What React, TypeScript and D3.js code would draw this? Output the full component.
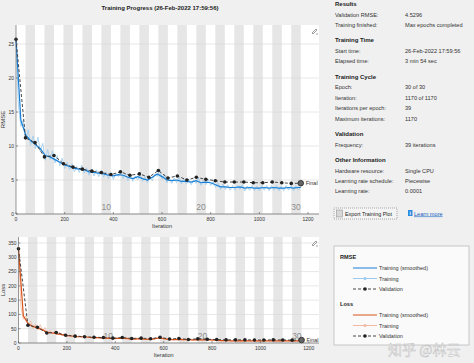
import React from 'react';
import * as d3 from 'd3';

// training setup
const ITER_PER_EPOCH = 39;
const NUM_EPOCHS = 30;
const epochLabels = [10, 20, 30];
const xTicks = [0, 200, 400, 600, 800, 1000, 1200];
const rmseTicks = [0, 5, 10, 15, 20, 25];
const lossTicks = [0, 50, 100, 150, 200, 250, 300, 350];

// validation (every 39 iterations)
const valIter = [0, 39, 78, 117, 156, 195, 234, 273, 312, 351, 390, 429, 468, 507, 546, 585, 624, 663, 702, 741, 780, 819, 858, 897, 936, 975, 1014, 1053, 1092, 1131, 1170];
const valRmse = [25.7, 11.2, 10.5, 8.4, 8.6, 7.4, 6.9, 6.6, 6.3, 6.1, 5.8, 6.2, 5.7, 5.9, 5.4, 6.4, 5.3, 5.6, 5.0, 5.4, 5.1, 4.9, 4.7, 4.7, 4.7, 4.6, 4.6, 4.7, 4.6, 4.5, 4.53];
const valLoss = [330, 62, 55, 35, 37, 27, 24, 22, 20, 19, 17, 19, 16, 17, 15, 20, 14, 16, 12.5, 14.6, 13, 12, 11, 11, 11, 10.6, 10.6, 11, 10.6, 10, 10.3];

// raw training (sampled every 10 iterations)
const rawIter = [0, 10, 20, 30, 40, 50, 60, 70, 80, 90, 100, 110, 120, 130, 140, 150, 160, 170, 180, 190, 200, 210, 220, 230, 240, 250, 260, 270, 280, 290, 300, 310, 320, 330, 340, 350, 360, 370, 380, 390, 400, 410, 420, 430, 440, 450, 460, 470, 480, 490, 500, 510, 520, 530, 540, 550, 560, 570, 580, 590, 600, 610, 620, 630, 640, 650, 660, 670, 680, 690, 700, 710, 720, 730, 740, 750, 760, 770, 780, 790, 800, 810, 820, 830, 840, 850, 860, 870, 880, 890, 900, 910, 920, 930, 940, 950, 960, 970, 980, 990, 1000, 1010, 1020, 1030, 1040, 1050, 1060, 1070, 1080, 1090, 1100, 1110, 1120, 1130, 1140, 1150, 1160, 1170];
const rawRmse = [25.7, 16.0, 12.9, 13.8, 11.0, 12.4, 10.1, 11.5, 9.6, 11.3, 9.2, 10.4, 7.9, 9.5, 8.0, 9.3, 7.5, 8.6, 7.1, 8.2, 6.7, 7.6, 6.5, 7.4, 6.2, 7.0, 6.1, 7.2, 6.0, 6.8, 5.7, 6.6, 5.6, 6.5, 5.5, 6.4, 5.4, 6.2, 5.2, 6.1, 5.1, 6.0, 5.5, 6.4, 5.2, 6.0, 4.9, 5.8, 4.8, 5.6, 5.0, 5.9, 4.8, 5.5, 4.6, 5.4, 4.9, 5.9, 5.5, 6.5, 5.1, 5.8, 4.6, 5.3, 4.5, 5.3, 4.6, 5.4, 4.4, 5.2, 4.4, 5.1, 4.3, 5.0, 4.5, 5.3, 4.2, 5.0, 4.3, 5.1, 4.2, 4.8, 3.9, 4.6, 3.6, 4.4, 3.6, 4.3, 3.5, 4.2, 3.5, 4.2, 3.6, 4.3, 3.4, 4.1, 3.5, 4.2, 3.4, 4.1, 3.4, 4.2, 3.5, 4.2, 3.4, 4.2, 3.5, 4.2, 3.4, 4.1, 3.4, 4.2, 3.5, 4.2, 3.4, 4.2, 3.5, 4.0];
const rawLoss = [330, 128, 83, 95, 60, 77, 51, 66, 46, 64, 42, 54, 31, 45, 32, 43, 28, 37, 25, 34, 22, 29, 21, 27, 19, 25, 19, 26, 18, 23, 16, 22, 16, 21, 15, 20, 15, 19, 14, 19, 13, 18, 15, 20, 14, 18, 12, 17, 12, 16, 12.5, 17, 11.5, 15, 10.6, 14.6, 12, 17.4, 15, 21, 13, 17, 10.6, 14, 10, 14, 10.6, 14.6, 9.7, 13.5, 9.7, 13, 9.2, 12.5, 10, 14, 8.8, 12.5, 9.2, 13, 8.8, 11.5, 7.6, 10.6, 6.5, 9.7, 6.5, 9.2, 6.1, 8.8, 6.1, 8.8, 6.5, 9.2, 5.8, 8.4, 6.1, 8.8, 5.8, 8.4, 5.8, 8.8, 6.1, 8.8, 5.8, 8.8, 6.1, 8.8, 5.8, 8.4, 5.8, 8.8, 6.1, 8.8, 5.8, 8.8, 6.1, 8.0];

// smoothed training (sampled every 20 iterations)
const smoothIter = [0, 20, 40, 60, 80, 100, 120, 140, 160, 180, 200, 220, 240, 260, 280, 300, 320, 340, 360, 380, 400, 420, 440, 460, 480, 500, 520, 540, 560, 580, 600, 620, 640, 660, 680, 700, 720, 740, 760, 780, 800, 820, 840, 860, 880, 900, 920, 940, 960, 980, 1000, 1020, 1040, 1060, 1080, 1100, 1120, 1140, 1160, 1170];
const smoothRmse = [25.7, 13.8, 11.6, 10.8, 10.2, 9.6, 8.6, 8.4, 8.0, 7.6, 7.2, 7.0, 6.7, 6.6, 6.5, 6.2, 6.1, 6.0, 5.9, 5.7, 5.6, 5.8, 5.7, 5.4, 5.2, 5.5, 5.2, 5.0, 5.4, 5.9, 5.5, 5.0, 4.9, 5.0, 4.8, 4.8, 4.7, 4.9, 4.6, 4.7, 4.6, 4.3, 4.0, 4.0, 3.9, 3.9, 4.0, 3.8, 3.9, 3.8, 3.8, 3.9, 3.8, 3.9, 3.8, 3.8, 3.9, 3.8, 3.9, 3.9];
const smoothLoss = [330, 95, 67, 58, 52, 46, 37, 35, 32, 29, 26, 24.5, 22.4, 21.8, 21, 19.2, 18.6, 18, 17.4, 16.2, 15.7, 16.8, 16.2, 14.6, 13.5, 15.1, 13.5, 12.5, 14.6, 17.4, 15.1, 12.5, 12, 12.5, 11.5, 11.5, 11, 12, 10.6, 11, 10.6, 9.2, 8, 8, 7.6, 7.6, 8, 7.2, 7.6, 7.2, 7.2, 7.6, 7.2, 7.6, 7.2, 7.2, 7.6, 7.2, 7.6, 7.6];

// info panel
const infoSections = [
  { title: 'Results', rows: [['Validation RMSE:', '4.5296'], ['Training finished:', 'Max epochs completed']] },
  { title: 'Training Time', rows: [['Start time:', '26-Feb-2022 17:59:56'], ['Elapsed time:', '3 min 54 sec']] },
  { title: 'Training Cycle', rows: [['Epoch:', '30 of 30'], ['Iteration:', '1170 of 1170'], ['Iterations per epoch:', '39'], ['Maximum iterations:', '1170']] },
  { title: 'Validation', rows: [['Frequency:', '39 iterations']] },
  { title: 'Other Information', rows: [['Hardware resource:', 'Single CPU'], ['Learning rate schedule:', 'Piecewise'], ['Learning rate:', '0.0001']] },
];

const FONT = "'Liberation Sans', Arial, sans-serif";
const TEXT = '#333';

interface PlotProps {
  left: number; right: number; top: number; bottom: number;
  xMax: number; yMax: number; yTicks: number[]; yLabel: string;
  val: number[]; raw: number[]; smooth: number[];
  rawColor: string; smoothColor: string;
}

function Plot(p: PlotProps) {
  const x = d3.scaleLinear().domain([0, p.xMax]).range([p.left, p.right]);
  const y = d3.scaleLinear().domain([0, p.yMax]).range([p.bottom, p.top]);
  const line = (xs: number[]) => d3.line<number>().x((_, i) => x(xs[i])).y(d => y(d));
  const epochs = d3.range(1, NUM_EPOCHS + 1);
  const lastI = valIter.length - 1;
  return (
    <g>
      <rect x={p.left} y={p.top} width={p.right - p.left} height={p.bottom - p.top} fill="#ffffff" />
      {epochs.filter(e => e % 2 === 0).map(e => (
        <rect key={e} x={x((e - 1) * ITER_PER_EPOCH)} y={p.top}
          width={x(e * ITER_PER_EPOCH) - x((e - 1) * ITER_PER_EPOCH)} height={p.bottom - p.top} fill="#e6e6e6" />
      ))}
      {p.yTicks.map(t => (
        <line key={t} x1={p.left} x2={p.right} y1={y(t)} y2={y(t)} stroke="#d6d6d6" strokeWidth={0.6} />
      ))}
      {epochLabels.map(e => (
        <text key={e} x={x((e - 0.5) * ITER_PER_EPOCH)} y={p.bottom - 4} fontSize={8.5} fill="#8c8c8c"
          textAnchor="middle" fontFamily={FONT}>{e}</text>
      ))}
      <path d={line(rawIter)(p.raw) || ''} fill="none" stroke={p.rawColor} strokeWidth={0.8} />
      <path d={line(smoothIter)(p.smooth) || ''} fill="none" stroke={p.smoothColor} strokeWidth={1.2} />
      <path d={line(valIter)(p.val) || ''} fill="none" stroke="#333" strokeWidth={0.9} strokeDasharray="3,2" />
      {p.val.slice(0, lastI).map((v, i) => (
        <circle key={i} cx={x(valIter[i])} cy={y(v)} r={1.8} fill="#222" />
      ))}
      <circle cx={x(valIter[lastI])} cy={y(p.val[lastI])} r={2.8} fill="#666" stroke="#222" strokeWidth={0.8} />
      <text x={x(valIter[lastI]) + 5} y={y(p.val[lastI]) + 2} fontSize={5.5} fill={TEXT} fontFamily={FONT}>Final</text>
      {/* axes */}
      <line x1={p.left} x2={p.right} y1={p.bottom} y2={p.bottom} stroke="#555" strokeWidth={0.6} />
      <line x1={p.left} x2={p.left} y1={p.top} y2={p.bottom} stroke="#555" strokeWidth={0.6} />
      {xTicks.map(t => (
        <g key={t}>
          <line x1={x(t)} x2={x(t)} y1={p.bottom} y2={p.bottom - 2} stroke="#555" strokeWidth={0.6} />
          <text x={x(t)} y={p.bottom + 7} fontSize={5} fill={TEXT} textAnchor="middle" fontFamily={FONT}>{t}</text>
        </g>
      ))}
      {p.yTicks.map(t => (
        <g key={t}>
          <line x1={p.left} x2={p.left + 2} y1={y(t)} y2={y(t)} stroke="#555" strokeWidth={0.6} />
          <text x={p.left - 2} y={y(t) + 1.8} fontSize={5} fill={TEXT} textAnchor="end" fontFamily={FONT}>{t}</text>
        </g>
      ))}
      <text x={(p.left + x(1200)) / 2} y={p.bottom + 13.5} fontSize={5.5} fill={TEXT} textAnchor="middle" fontFamily={FONT}>Iteration</text>
      <text transform={`translate(5,${(p.top + p.bottom) / 2}) rotate(-90)`} fontSize={6} fill={TEXT}
        textAnchor="middle" fontFamily={FONT}>{p.yLabel}</text>
      {/* toolbar glyph */}
      <g transform={`translate(${p.right - 8},${p.top + 2})`} stroke="#888" strokeWidth={0.8} fill="none">
        <path d="M1,6 L5,2 L6,3 L2,7 Z" />
        <path d="M5,7 L7,7" />
      </g>
    </g>
  );
}

export default function App() {
  const W = 474, H = 363;
  let yy = 4;
  const infoRows: React.ReactNode[] = [];
  infoSections.forEach((s, si) => {
    if (si > 0) yy += 5;
    infoRows.push(<text key={`h${si}`} x={335} y={yy + 2} fontSize={6} fontWeight="bold" fill="#222" fontFamily={FONT}>{s.title}</text>);
    yy += 10.6;
    s.rows.forEach((r, ri) => {
      infoRows.push(
        <g key={`r${si}-${ri}`}>
          <text x={335} y={yy + 2} fontSize={5.6} fill={TEXT} fontFamily={FONT}>{r[0]}</text>
          <text x={405} y={yy + 2} fontSize={5.6} fill={TEXT} fontFamily={FONT}>{r[1]}</text>
        </g>
      );
      yy += 10.4;
    });
  });

  const legendGroups = [
    { title: 'RMSE', smooth: '#1a7fd4', raw: '#9ccbef', y: 257 },
    { title: 'Loss', smooth: '#d95319', raw: '#f3b9a3', y: 304 },
  ];

  return (
    <svg width={W} height={H} style={{ position: 'absolute', left: 0, top: 0, display: 'block' }}>
      <rect width={W} height={H} fill="#f0f0f0" />
      <text x={160} y={10} fontSize={6} fontWeight="bold" fill="#222" textAnchor="middle" fontFamily={FONT}>
        Training Progress (26-Feb-2022 17:59:56)
      </text>
      <Plot left={16} right={319} top={25} bottom={214} xMax={1245} yMax={27.8} yTicks={rmseTicks} yLabel="RMSE"
        val={valRmse} raw={rawRmse} smooth={smoothRmse} rawColor="#9ccbef" smoothColor="#1a7fd4" />
      <Plot left={18.5} right={319} top={237} bottom={343} xMax={1242} yMax={371} yTicks={lossTicks} yLabel="Loss"
        val={valLoss} raw={rawLoss} smooth={smoothLoss} rawColor="#f3b9a3" smoothColor="#d95319" />

      {infoRows}

      {/* export button */}
      <rect x={334} y={208} width={63} height={11} fill="#f4f4f4" stroke="#777" strokeWidth={0.6} strokeDasharray="1,1" />
      <rect x={336.5} y={210} width={6} height={7} fill="#d8d8d8" stroke="#888" strokeWidth={0.5} />
      <text x={345} y={215.8} fontSize={5.4} fill="#222" fontFamily={FONT}>Export Training Plot</text>
      <rect x={408} y={210} width={4.5} height={6} fill="#2a8ae0" />
      <text x={410.25} y={215} fontSize={5} fill="#fff" textAnchor="middle" fontWeight="bold" fontFamily={FONT}>i</text>
      <text x={414} y={215.5} fontSize={5.6} fill="#1560c0" fontFamily={FONT} textDecoration="underline">Learn more</text>

      {/* legend */}
      <rect x={334} y={246} width={135} height={99} fill="#fafafa" stroke="#a8a8a8" strokeWidth={0.6} />
      {legendGroups.map(g => (
        <g key={g.title}>
          <text x={340} y={g.y + 2} fontSize={5.6} fontWeight="bold" fill="#222" fontFamily={FONT}>{g.title}</text>
          <line x1={353} x2={377} y1={g.y + 11} y2={g.y + 11} stroke={g.smooth} strokeWidth={1} />
          <text x={379} y={g.y + 13} fontSize={5.5} fill={TEXT} fontFamily={FONT}>Training (smoothed)</text>
          <line x1={353} x2={377} y1={g.y + 21.5} y2={g.y + 21.5} stroke={g.raw} strokeWidth={1} />
          <circle cx={365} cy={g.y + 21.5} r={1.6} fill={g.raw} />
          <text x={379} y={g.y + 23.5} fontSize={5.5} fill={TEXT} fontFamily={FONT}>Training</text>
          <line x1={353} x2={377} y1={g.y + 32} y2={g.y + 32} stroke="#333" strokeWidth={0.9} strokeDasharray="3,2" />
          <circle cx={365} cy={g.y + 32} r={1.8} fill="#222" />
          <text x={379} y={g.y + 34} fontSize={5.5} fill={TEXT} fontFamily={FONT}>Validation</text>
        </g>
      ))}

      {/* watermark */}
      <text x={388} y={355} fontSize={14} fill="#ffffff" fillOpacity={0.85} stroke="#bdbdbd" strokeWidth={0.5}
        fontFamily="'Noto Sans CJK SC', sans-serif">知乎 @林云</text>
    </svg>
  );
}
